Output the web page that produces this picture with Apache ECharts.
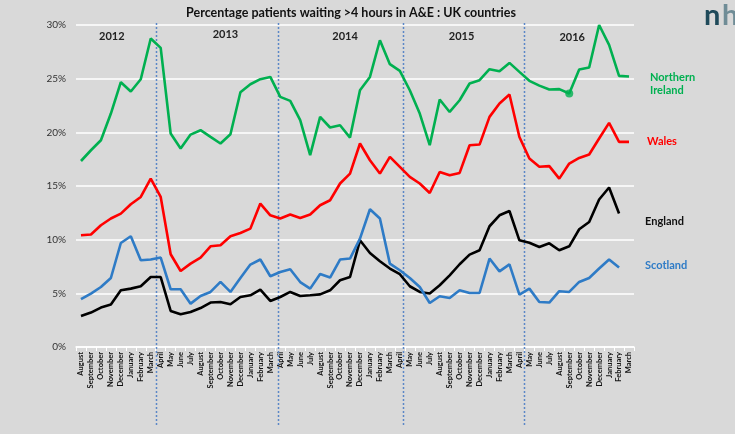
<!DOCTYPE html>
<html>
<head>
<meta charset="utf-8">
<script src="https://cdn.jsdelivr.net/npm/echarts@6/dist/echarts.min.js"></script>
<style>
html,body{margin:0;padding:0;background:#ffffff;}
#chart{width:735px;height:434px;background:#d9d9d9;}
</style>
</head>
<body>
<div id="chart"></div>
<script>
// Month categories: August 2011 .. March 2016
const months = ["August","September","October","November","December","January","February","March",
  "April","May","June","July","August","September","October","November","December","January","February","March",
  "April","May","June","July","August","September","October","November","December","January","February","March",
  "April","May","June","July","August","September","October","November","December","January","February","March",
  "April","May","June","July","August","September","October","November","December","January","February","March"];

const yearLabels = ["2012","2013","2014","2015","2016"];
const yTicks = [0,5,10,15,20,25,30];

const northernIreland = [17.33,18.33,19.26,21.75,24.67,23.80,24.95,28.74,27.87,19.89,18.49,19.79,20.20,19.57,18.96,19.82,23.74,24.48,24.95,25.16,23.30,22.93,21.13,17.87,21.44,
  20.45,20.66,19.51,23.92,25.16,28.58,26.35,25.72,23.92,21.75,18.80,23.06,21.90,22.99,24.55,24.86,25.88,
  25.69,26.47,25.63,24.80,24.35,23.99,24.03,23.62,25.85,26.04,30.0,28.15,25.26,25.20];

const wales = [10.41,10.48,11.34,11.97,12.43,13.30,13.98,15.69,13.98,8.64,7.08,7.77,8.33,9.38,9.48,10.32,10.62,11.03,13.36,12.27,11.97,12.34,12.02,12.34,13.21,
  13.67,15.23,16.16,18.96,17.40,16.16,17.71,16.78,15.85,15.23,14.35,16.31,16.00,16.22,18.80,18.86,21.44,
  22.68,23.52,19.57,17.56,16.80,16.85,15.69,17.09,17.61,17.93,19.42,20.88,19.11,19.11];

const england = [2.89,3.21,3.67,3.95,5.28,5.44,5.66,6.52,6.52,3.36,3.05,3.26,3.63,4.14,4.19,3.98,4.66,4.82,5.35,4.29,4.66,5.13,4.75,4.82,4.90,
  5.28,6.22,6.52,9.94,8.76,7.99,7.31,6.78,5.66,5.13,4.98,5.75,6.68,7.71,8.61,9.01,11.25,
  12.27,12.67,9.94,9.71,9.32,9.66,9.01,9.38,10.97,11.65,13.74,14.86,12.43,null];

const scotland = [4.45,4.98,5.59,6.43,9.69,10.32,8.08,8.15,8.33,5.38,5.38,4.04,4.75,5.13,6.06,5.13,6.43,7.68,8.15,6.59,6.99,7.24,6.05,5.44,6.80,
  6.47,8.15,8.24,10.10,12.83,11.97,7.77,7.15,6.43,5.59,4.10,4.73,4.57,5.28,5.03,5.03,8.24,
  7.05,7.70,4.88,5.44,4.19,4.14,5.20,5.13,6.06,6.43,7.31,8.15,7.40,null];

const chart = echarts.init(document.getElementById('chart'));
const FONT = 'Lato, "Open Sans", sans-serif';

function lineSeries(name, data, color){
  return {name, type:'line', data, symbol:'none', smooth:false,
    lineStyle:{color, width:2.6}, itemStyle:{color}, z:3};
}

chart.setOption({
  backgroundColor:'#d9d9d9',
  animation:false,
  title:{text:'Percentage patients waiting >4 hours in A&E : UK countries', left:346, top:1, textAlign:'center',
    textStyle:{fontFamily:FONT, fontSize:12.5, fontWeight:'bold', color:'#111'}},
  grid:{left:76, right:101, top:25, bottom:87},
  xAxis:{type:'category', data:months, boundaryGap:true,
    axisLine:{lineStyle:{color:'#ffffff', width:1.5}},
    axisTick:{show:true, alignWithLabel:false, length:4, lineStyle:{color:'#ffffff'}},
    axisLabel:{rotate:90, interval:0, fontSize:7.5, fontFamily:FONT, fontWeight:'bold', color:'#111', margin:5},
    splitLine:{show:false}},
  yAxis:{type:'value', min:0, max:30, interval:5,
    axisLine:{show:false}, axisTick:{show:false},
    axisLabel:{formatter:v=>v+'%', fontSize:10, fontFamily:FONT, color:'#333', margin:10},
    splitLine:{lineStyle:{color:'#ffffff', width:1.5}}},
  series:[
    lineSeries('Northern Ireland', northernIreland, '#00b050'),
    lineSeries('Wales', wales, '#ff0000'),
    lineSeries('England', england, '#000000'),
    lineSeries('Scotland', scotland, '#2e7bc6'),
    {type:'scatter', data:[[49, northernIreland[49]]], symbolSize:8, itemStyle:{color:'#00b050'}, z:4}
  ]
});

// Year separators and labels positioned from the category scale
const p0 = chart.convertToPixel({xAxisIndex:0}, 0);
const p1 = chart.convertToPixel({xAxisIndex:0}, 1);
const band = p1 - p0;
const sepIdx = [7.55, 19.8, 32.3, 44.5];
const yearCenters = [3.1, 14.5, 26.5, 38.2, 49.3];
const yearTops = [31, 29, 31, 31, 32];
const g = [];
sepIdx.forEach(i=>{
  const x = Math.round(p0 + i*band) + 0.5;
  g.push({type:'line', shape:{x1:x, y1:23, x2:x, y2:425},
    style:{stroke:'#5b87c7', lineWidth:1.5, lineDash:[2,2]}, z:1});
});
yearLabels.forEach((t,k)=>{
  g.push({type:'text', x:p0 + yearCenters[k]*band, y:yearTops[k],
    style:{text:t, fill:'#222', font:'bold 11px '+FONT, textAlign:'center'}, z:5});
});
const labels = [
  {t:'Northern', x:650, y:72, c:'#00b050'},
  {t:'Ireland', x:650, y:85, c:'#00b050'},
  {t:'Wales', x:647, y:136, c:'#ff0000'},
  {t:'England', x:645, y:216, c:'#111111'},
  {t:'Scotland', x:645, y:260, c:'#2e7bc6'}
];
labels.forEach(l=>{
  g.push({type:'text', x:l.x, y:l.y, style:{text:l.t, fill:l.c, font:'bold 11px '+FONT}, z:5});
});
g.push({type:'text', x:704, y:1, style:{text:'n', fill:'#1f4a5a', font:'bold 29px '+FONT}, z:5});
g.push({type:'text', x:722, y:1, style:{text:'h', fill:'#6f8c96', font:'bold 29px '+FONT}, z:5});
chart.setOption({graphic:g});
</script>
</body>
</html>
